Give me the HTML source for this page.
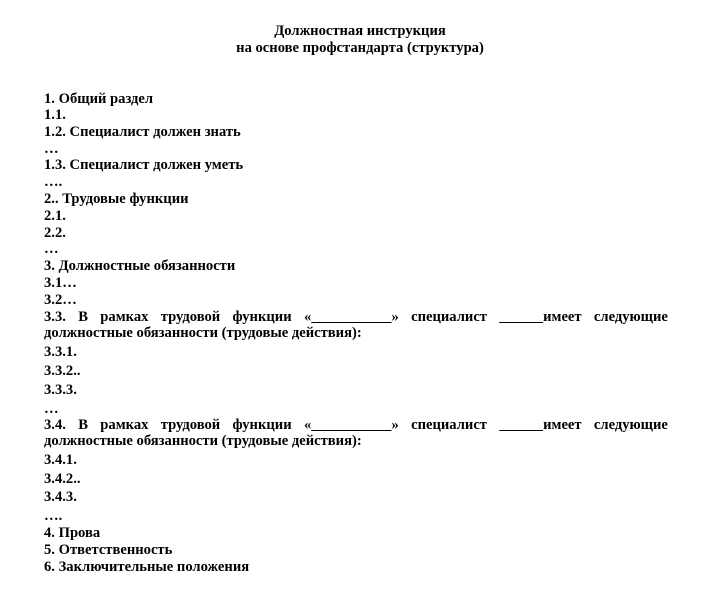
<!DOCTYPE html>
<html><head><meta charset="utf-8"><style>
html,body{margin:0;padding:0;background:#fff;}
body{width:720px;height:606px;position:relative;overflow:hidden;font-family:"Liberation Serif","Noto Serif CJK SC",serif;font-weight:bold;font-size:14.6px;color:#000;}
.l{position:absolute;left:44px;line-height:16px;white-space:nowrap;}
.j{position:absolute;left:44px;width:624px;line-height:16px;white-space:nowrap;display:flex;justify-content:space-between;}
.c{position:absolute;left:0;width:720px;text-align:center;line-height:16px;}
</style></head><body>
<div class="c" style="top:23px">Должностная инструкция</div>
<div class="c" style="top:40px">на основе профстандарта (структура)</div>
<div class="l" style="top:91px">1. Общий раздел</div>
<div class="l" style="top:107px">1.1.</div>
<div class="l" style="top:124px">1.2. Специалист должен знать</div>
<div class="l" style="top:141px">…</div>
<div class="l" style="top:157px">1.3. Специалист должен уметь</div>
<div class="l" style="top:174px">….</div>
<div class="l" style="top:191px">2.. Трудовые функции</div>
<div class="l" style="top:208px">2.1.</div>
<div class="l" style="top:225px">2.2.</div>
<div class="l" style="top:241px">…</div>
<div class="l" style="top:258px">3. Должностные обязанности</div>
<div class="l" style="top:275px">3.1…</div>
<div class="l" style="top:292px">3.2…</div>
<div class="j" style="top:309px"><span>3.3.</span><span>В</span><span>рамках</span><span>трудовой</span><span>функции</span><span>«<u>&nbsp;&nbsp;&nbsp;&nbsp;&nbsp;&nbsp;&nbsp;&nbsp;&nbsp;&nbsp;&nbsp;&nbsp;&nbsp;&nbsp;&nbsp;&nbsp;&nbsp;&nbsp;&nbsp;&nbsp;&nbsp;&nbsp;</u>»</span><span>специалист</span><span><u>&nbsp;&nbsp;&nbsp;&nbsp;&nbsp;&nbsp;&nbsp;&nbsp;&nbsp;&nbsp;&nbsp;&nbsp;</u>имеет</span><span>следующие</span></div>
<div class="l" style="top:325px">должностные обязанности (трудовые действия):</div>
<div class="l" style="top:344px">3.3.1.</div>
<div class="l" style="top:363px">3.3.2..</div>
<div class="l" style="top:382px">3.3.3.</div>
<div class="l" style="top:401px">…</div>
<div class="j" style="top:417px"><span>3.4.</span><span>В</span><span>рамках</span><span>трудовой</span><span>функции</span><span>«<u>&nbsp;&nbsp;&nbsp;&nbsp;&nbsp;&nbsp;&nbsp;&nbsp;&nbsp;&nbsp;&nbsp;&nbsp;&nbsp;&nbsp;&nbsp;&nbsp;&nbsp;&nbsp;&nbsp;&nbsp;&nbsp;&nbsp;</u>»</span><span>специалист</span><span><u>&nbsp;&nbsp;&nbsp;&nbsp;&nbsp;&nbsp;&nbsp;&nbsp;&nbsp;&nbsp;&nbsp;&nbsp;</u>имеет</span><span>следующие</span></div>
<div class="l" style="top:433px">должностные обязанности (трудовые действия):</div>
<div class="l" style="top:452px">3.4.1.</div>
<div class="l" style="top:471px">3.4.2..</div>
<div class="l" style="top:489px">3.4.3.</div>
<div class="l" style="top:508px">….</div>
<div class="l" style="top:525px">4. Прова</div>
<div class="l" style="top:542px">5. Ответственность</div>
<div class="l" style="top:559px">6. Заключительные положения</div>
</body></html>
